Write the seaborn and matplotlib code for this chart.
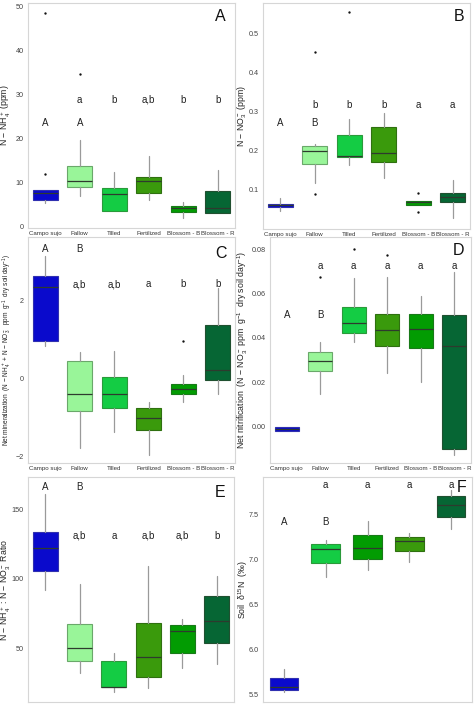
import matplotlib
matplotlib.use("Agg")
import matplotlib.pyplot as plt
import seaborn as sns

# Stil setzen (danach erst die Schrift, sonst ueberschreibt seaborn sie)
sns.set_theme(style="white")
plt.rcParams['font.family'] = ['Liberation Sans', 'DejaVu Sans']
plt.rcParams['mathtext.fontset'] = 'custom'
plt.rcParams['mathtext.rm'] = 'Liberation Sans'
plt.rcParams['mathtext.it'] = 'Liberation Sans:italic'
plt.rcParams['mathtext.default'] = 'regular'

# Kategorien
kategorien = ["Campo sujo", "Fallow", "Tilled", "Fertilized", "Blossom - B", "Blossom - R"]
kategorien_f = ["Campo sujo", "Tilled", "Blossom - B", "Fertilized", "Blossom - R"]

# Farben je Kategorie
farbe = {"Campo sujo": "#0a0acc", "Fallow": "#99f599", "Tilled": "#14cc44",
         "Fertilized": "#3a9a0c", "Blossom - B": "#029c02", "Blossom - R": "#066634"}
kante = {"Campo sujo": "#3030b0", "Fallow": "#6aa86a", "Tilled": "#2a9a3a",
         "Fertilized": "#2f7010", "Blossom - B": "#187a18", "Blossom - R": "#205030"}

# Panel A: N-NH4+ (ppm)
a_whislo = [5.5, 7.0, 3.6, 6.1, 1.9, 3.0]
a_q1 = [6.1, 9.0, 3.6, 7.6, 3.3, 3.0]
a_med = [7.7, 10.3, 7.4, 10.3, 4.2, 4.2]
a_q3 = [8.4, 13.7, 8.7, 11.2, 4.6, 8.1]
a_whishi = [8.4, 19.8, 12.5, 16.1, 5.7, 12.9]
a_ausreisser = [[12.1, 48.6], [34.8], [], [], [], []]
a_gross = ["A", "A", "", "", "", ""]
a_klein = ["", "a", "b", "a,b", "b", "b"]

# Panel B: N-NO3- (ppm)
b_whislo = [0.047, 0.117, 0.164, 0.130, 0.062, 0.028]
b_q1 = [0.056, 0.165, 0.185, 0.171, 0.062, 0.068]
b_med = [0.062, 0.198, 0.187, 0.193, 0.068, 0.081]
b_q3 = [0.064, 0.213, 0.240, 0.260, 0.072, 0.093]
b_whishi = [0.079, 0.218, 0.282, 0.296, 0.072, 0.124]
b_ausreisser = [[], [0.089, 0.453], [0.553], [], [0.043, 0.091], []]
b_gross = ["A", "B", "", "", "", ""]
b_klein = ["", "b", "b", "b", "a", "a"]

# Panel C: Netto-Mineralisierung
c_whislo = [0.84, -1.79, -1.39, -1.98, -0.60, -0.41]
c_q1 = [0.96, -0.84, -0.76, -1.32, -0.39, -0.05]
c_med = [2.35, -0.41, -0.40, -1.03, -0.26, 0.22]
c_q3 = [2.65, 0.46, 0.04, -0.77, -0.13, 1.39]
c_whishi = [3.17, 0.69, 0.71, -0.60, 0.09, 2.34]
c_ausreisser = [[], [], [], [], [0.96], []]
c_gross = ["A", "B", "", "", "", ""]
c_klein = ["", "a,b", "a,b", "a", "b", "b"]

# Panel D: Netto-Nitrifikation
d_whislo = [-0.0021, 0.0145, 0.0383, 0.0243, 0.0202, -0.0130]
d_q1 = [-0.0021, 0.0252, 0.0423, 0.0363, 0.0353, -0.0104]
d_med = [-0.0012, 0.0295, 0.0466, 0.0434, 0.0440, 0.0365]
d_q3 = [-0.0003, 0.0337, 0.0541, 0.0508, 0.0509, 0.0503]
d_whishi = [-0.0003, 0.0380, 0.0669, 0.0676, 0.0590, 0.0699]
d_ausreisser = [[], [0.0676], [0.0800], [0.0774], [], []]
d_gross = ["A", "B", "", "", "", ""]
d_klein = ["", "a", "a", "a", "a", "a"]

# Panel E: NH4 : NO3 Verhaeltnis
e_whislo = [92.1, 32.5, 19.3, 21.7, 36.0, 39.1]
e_q1 = [106.0, 41.3, 22.4, 30.1, 46.8, 54.4]
e_med = [122.0, 50.4, 22.9, 43.9, 62.8, 70.2]
e_q3 = [133.9, 67.8, 41.3, 68.7, 67.1, 87.8]
e_whishi = [161.0, 96.4, 46.8, 109.5, 71.4, 102.0]
e_ausreisser = [[], [], [], [], [], []]
e_gross = ["A", "B", "", "", "", ""]
e_klein = ["", "a,b", "a", "a,b", "a,b", "b"]

# Panel F: Boden delta 15N
f_whislo = [5.537, 6.815, 6.889, 6.980, 7.341]
f_q1 = [5.556, 6.963, 7.011, 7.100, 7.474]
f_med = [5.593, 7.119, 7.130, 7.215, 7.611]
f_q3 = [5.685, 7.174, 7.278, 7.259, 7.711]
f_whishi = [5.789, 7.222, 7.437, 7.304, 7.778]
f_ausreisser = [[], [], [], [], []]
f_gross = ["A", "B", "", "", ""]
f_klein = ["", "a", "a", "a", "a"]


def zeichne_panel(pos, namen, whislo, q1, med, q3, whishi, ausreisser,
                  gross, klein, y_gross, y_klein, ylim, yticks, ylabel,
                  label_x, buchstabe, buchst_xy, breite=0.72, xlabels=True, label_size=6.3):
    links, oben, w, h = pos
    ax = fig.add_axes([links / 474, 1 - (oben + h) / 705, w / 474, h / 705])
    stats = []
    for i in range(len(namen)):
        stats.append(dict(label=namen[i], whislo=whislo[i], q1=q1[i], med=med[i],
                          q3=q3[i], whishi=whishi[i], fliers=ausreisser[i]))
    bp = ax.bxp(stats, positions=list(range(len(namen))), widths=breite,
                patch_artist=True, showcaps=False,
                whiskerprops=dict(color="#9a9a9a", lw=0.9),
                medianprops=dict(color="#2e3a2e", lw=0.9),
                flierprops=dict(marker="o", markersize=1.7, markerfacecolor="#111111",
                                markeredgecolor="#111111", markeredgewidth=0))
    for box, name in zip(bp["boxes"], namen):
        box.set_facecolor(farbe[name])
        box.set_edgecolor(kante[name])
        box.set_linewidth(0.8)

    # Signifikanzbuchstaben
    for i in range(len(namen)):
        if gross[i]:
            ax.text(i, y_gross, gross[i], ha="center", va="center", fontsize=7, color="#222222")
        if klein[i]:
            ax.text(i, y_klein, klein[i], ha="center", va="center", fontsize=7, color="#222222")
    ax.text(buchst_xy[0], buchst_xy[1], buchstabe, transform=ax.transAxes,
            ha="center", va="center", fontsize=11.5, color="#111111")

    ax.set_xlim(-0.5, len(namen) - 0.5)
    ax.set_ylim(*ylim)
    ax.set_yticks(yticks)
    ax.set_xticks(list(range(len(namen))))
    if xlabels:
        ax.set_xticklabels(namen, fontsize=4.4, color="#333333")
    else:
        ax.set_xticklabels([])
    ax.tick_params(axis="y", labelsize=5.2, labelcolor="#444444", length=0, pad=3)
    ax.tick_params(axis="x", length=0, pad=2)
    ax.set_ylabel(ylabel, fontsize=label_size, color="#222222")
    ax.yaxis.set_label_coords(label_x, 0.5)
    for sp in ax.spines.values():
        sp.set_color("#d6d6d6")
        sp.set_linewidth(0.8)
    return ax


fig = plt.figure(figsize=(4.74, 7.05), dpi=100)

zeichne_panel((28, 3, 207, 225), kategorien, a_whislo, a_q1, a_med, a_q3, a_whishi,
              a_ausreisser, a_gross, a_klein, 23.5, 28.9, (-0.3, 50.9),
              [0, 10, 20, 30, 40, 50], r"N − NH$_4^+$ (ppm)", -0.072, "A", (0.93, 0.94))

zeichne_panel((263, 3, 207, 226), kategorien, b_whislo, b_q1, b_med, b_q3, b_whishi,
              b_ausreisser, b_gross, b_klein, 0.27, 0.317, (0.0, 0.577),
              [0.1, 0.2, 0.3, 0.4, 0.5], r"N − NO$_3^-$ (ppm)", -0.068, "B", (0.947, 0.94))

zeichne_panel((28, 237, 207, 226), kategorien, c_whislo, c_q1, c_med, c_q3, c_whishi,
              c_ausreisser, c_gross, c_klein, 3.34, 2.43, (-2.18, 3.65), [-2, 0, 2],
              r"Net mineralization  (N − NH$_4^+$ + N − NO$_3^-$  ppm  g$^{-1}$  dry soil day$^{-1}$)",
              -0.068, "C", (0.93, 0.925), label_size=4.7)

zeichne_panel((270, 237, 201, 226), kategorien, d_whislo, d_q1, d_med, d_q3, d_whishi,
              d_ausreisser, d_gross, d_klein, 0.0503, 0.0726, (-0.0166, 0.0856),
              [0.00, 0.02, 0.04, 0.06, 0.08],
              r"Net nitrification  (N − NO$_3^-$ ppm  g$^{-1}$  dry soil day$^{-1}$)",
              -0.1, "D", (0.94, 0.94), label_size=6.3)

zeichne_panel((28, 477, 206, 225), kategorien, e_whislo, e_q1, e_med, e_q3, e_whishi,
              e_ausreisser, e_gross, e_klein, 165.6, 131.0, (11.9, 173.0), [50, 100, 150],
              r"N − NH$_4^+$ : N − NO$_3^-$ Ratio", -0.072, "E", (0.93, 0.93), xlabels=False)

zeichne_panel((263, 477, 209, 225), kategorien_f, f_whislo, f_q1, f_med, f_q3, f_whishi,
              f_ausreisser, f_gross, f_klein, 7.42, 7.833, (5.422, 7.922),
              [5.5, 6.0, 6.5, 7.0, 7.5], r"Soil  $\delta^{15}$N  (‰)", -0.062, "F",
              (0.95, 0.955), breite=0.68, xlabels=False)

plt.savefig("out.png", dpi=100)
